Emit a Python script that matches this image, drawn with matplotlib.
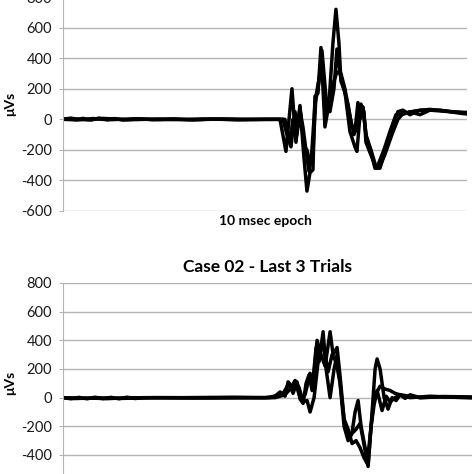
import matplotlib
matplotlib.use("Agg")
from matplotlib import pyplot as plt

plt.rcParams['font.family'] = ['Lato', 'DejaVu Sans']
plt.rcParams['axes.unicode_minus'] = False

# ---- top panel (samples across the 10 msec epoch, values in uVs) ----
top_t1 = [0, 8, 12, 20, 28, 36, 44, 52, 60, 75, 90, 110, 130, 150, 175, 200, 217,
          223, 229, 233, 237, 241, 244, 247, 250, 252, 255, 258, 262, 266, 270, 273,
          276, 278, 282, 287, 292, 294, 298, 301, 303, 309, 313, 317, 322, 327, 335,
          340, 347, 357, 377, 397, 404]
top_v1 = [0, 8, -3, 6, -4, 8, -2, 5, -5, 4, -3, 3, -4, 2, -3, 0, 0,
          -210, 200, -150, 90, -250, -470, -350, -330, 150, 170, 470, -50, 100, 500, 720,
          500, 250, 180, -80, -180, -210, 100, 50, -150, -250, -320, -320, -220, -100, 50,
          60, 30, 60, 60, 40, 35]

top_t2 = [0, 15, 30, 45, 70, 100, 140, 180, 220, 224, 228, 232, 235, 237, 241, 244,
          247, 250, 253, 257, 259, 263, 267, 271, 274, 277, 280, 285, 289, 292, 295,
          297, 300, 303, 307, 312, 315, 321, 327, 333, 342, 352, 367, 382, 404]
top_v2 = [0, -4, 5, -3, 3, -2, 2, -2, 0, -100, -180, 50, -50, 80, -180, -200,
          -300, -220, 150, 300, 450, 150, 50, 200, 460, 300, 220, 100, -50, -80, 110,
          0, 80, -100, -180, -320, -300, -200, -80, 30, 40, 55, 65, 55, 40]

top_t3 = [0, 10, 25, 40, 65, 95, 125, 160, 195, 222, 227, 230, 234, 237, 240, 243,
          246, 249, 252, 255, 259, 263, 267, 271, 274, 278, 282, 287, 291, 294, 297,
          300, 304, 308, 313, 317, 322, 329, 335, 339, 347, 357, 367, 387, 404]
top_v3 = [0, 5, -4, 6, -3, 2, -3, 2, 0, 0, -150, 0, -100, 60, -50, -200,
          -340, -200, 100, 200, 400, 50, 150, 250, 310, 300, 200, 20, -100, -50, 80,
          80, -150, -200, -310, -300, -230, -100, 0, 30, 50, 30, 60, 50, 45]

# ---- bottom panel: Case 02 - Last 3 Trials ----
bot_t1 = [0, 8, 16, 24, 32, 40, 48, 56, 64, 72, 80, 120, 170, 202, 212, 217, 222,
          225, 228, 231, 234, 237, 240, 243, 246, 249, 253, 256, 260, 263, 267, 271,
          274, 277, 281, 285, 289, 293, 297, 301, 305, 309, 312, 314, 317, 321, 325,
          329, 333, 337, 347, 357, 377, 409]
bot_v1 = [0, -8, 2, -8, 3, -7, 2, -8, 3, -6, 0, 0, 3, 0, 10, 40, 10,
          110, 80, 60, 110, -10, -40, 100, 160, 50, 350, 250, 460, 200, 0, 200,
          300, 100, -200, -300, -250, -220, -180, -330, -480, -100, 200, 270, 200, 0, -80,
          0, -20, 20, 10, 0, 5, 0]

bot_t2 = [0, 12, 28, 44, 60, 100, 150, 207, 220, 226, 230, 233, 237, 242, 247, 250,
          254, 258, 262, 267, 270, 274, 277, 281, 285, 289, 292, 295, 298, 302, 305,
          308, 311, 317, 322, 327, 332, 337, 342, 347, 357, 380, 409]
bot_v2 = [0, -6, -3, -7, -2, 0, -2, 0, 30, 100, 30, 90, 0, 20, 170, 100,
          400, 300, 220, 460, 300, 350, 150, -150, -280, -240, -100, -20, -200, -350, -400,
          -200, 0, 80, 60, 50, 30, 20, -5, 20, 0, 8, 5]

bot_t3 = [0, 20, 40, 60, 90, 130, 180, 212, 222, 227, 232, 236, 240, 244, 247, 251,
          255, 259, 262, 265, 269, 273, 277, 281, 285, 289, 293, 297, 301, 305, 308,
          311, 314, 319, 323, 327, 332, 337, 347, 367, 390, 409]
bot_v3 = [0, -4, -2, -5, 0, -2, 0, 0, 20, 60, 120, 70, -30, -20, -100, 0,
          250, 380, 300, 180, 300, 250, 100, -150, -220, -320, -300, -350, -420, -470, -200,
          -50, 50, -90, 10, -30, 0, 20, 0, 10, 3, 0]

yticks = [-600, -400, -200, 0, 200, 400, 600, 800]
grid_col = '#b4b4b4'


def style(ax, xmax):
    ax.set_xlim(0, xmax)
    ax.set_ylim(-600, 800)
    ax.set_yticks(yticks)
    ax.set_xticks([])
    for s in ['top', 'right', 'bottom']:
        ax.spines[s].set_visible(False)
    ax.spines['left'].set_color(grid_col)
    ax.yaxis.grid(True, color=grid_col, linewidth=1.0)
    ax.set_axisbelow(True)
    ax.tick_params(axis='y', length=3, color=grid_col, labelsize=10.5, pad=5,
                   labelcolor='#1a1a1a')
    ax.set_ylabel('μVs', fontsize=10, fontweight='bold')
    ax.yaxis.set_label_coords(-0.115, 0.5)


fig = plt.figure(figsize=(4.74, 4.74), dpi=100)

ax1 = fig.add_axes([0.133, 0.5549, 0.852, 0.4512])
for t, v in [(top_t1, top_v1), (top_t2, top_v2), (top_t3, top_v3)]:
    ax1.plot(t, v, color='black', linewidth=2.5, solid_joinstyle='round')
style(ax1, 404)
ax1.set_xlabel('10 msec epoch', fontsize=10, fontweight='bold', labelpad=3)

ax2 = fig.add_axes([0.133, -0.0204, 0.863, 0.4234])
for t, v in [(bot_t1, bot_v1), (bot_t2, bot_v2), (bot_t3, bot_v3)]:
    ax2.plot(t, v, color='black', linewidth=2.5, solid_joinstyle='round')
style(ax2, 409)
ax2.set_title('Case 02 - Last 3 Trials', fontsize=12.5, fontweight='bold', pad=8)

fig.savefig('out.png', dpi=100)
